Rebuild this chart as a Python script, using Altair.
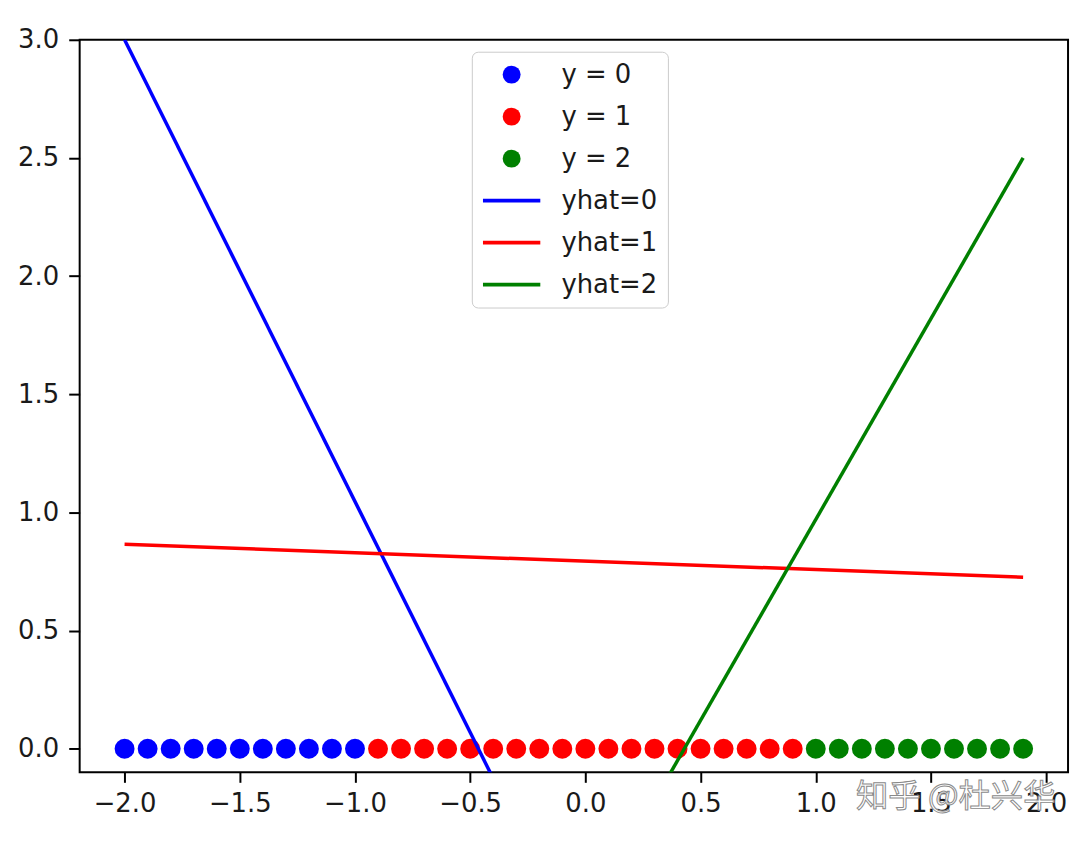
import altair as alt
import pandas as pd

# ---- data ----
x_class0 = [-2.0, -1.9, -1.8, -1.7, -1.6, -1.5, -1.4, -1.3, -1.2, -1.1, -1.0]
x_class1 = [-0.9, -0.8, -0.7, -0.6, -0.5, -0.4, -0.3, -0.2, -0.1, 0.0,
            0.1, 0.2, 0.3, 0.4, 0.5, 0.6, 0.7, 0.8, 0.9]
x_class2 = [1.0, 1.1, 1.2, 1.3, 1.4, 1.5, 1.6, 1.7, 1.8, 1.9]
point_labels = ["y = 0", "y = 1", "y = 2"]

line_x = [-2.0, 1.9]
yhat0 = [3.0, -4.62]
yhat1 = [0.865, 0.726]
yhat2 = [-4.13, 2.5]
line_labels = ["yhat=0", "yhat=1", "yhat=2"]

colors = ["#0000ff", "#ff0000", "#008000"]
x_ticks = [-2.0, -1.5, -1.0, -0.5, 0.0, 0.5, 1.0, 1.5, 2.0]
y_ticks = [0.0, 0.5, 1.0, 1.5, 2.0, 2.5, 3.0]
watermark = "知乎 @杜兴华"

# ---- tables ----
pts = []
for lab, xs in zip(point_labels, [x_class0, x_class1, x_class2]):
    for xv in xs:
        pts.append({"x": xv, "y": 0.0, "label": lab})
pts = pd.DataFrame(pts)

lines = []
for lab, ys in zip(line_labels, [yhat0, yhat1, yhat2]):
    for xv, yv in zip(line_x, ys):
        lines.append({"x": xv, "y": yv, "label": lab})
lines = pd.DataFrame(lines)

FONT = "DejaVu Sans"
label_expr = "replace(format(datum.value, '.1f'), '-', '\u2212')"

xscale = alt.Scale(domain=[-2.195, 2.095], nice=False, zero=False)
yscale = alt.Scale(domain=[-0.1, 3.0], nice=False, zero=False)

xaxis = alt.Axis(values=x_ticks, title=None, grid=False, domain=False,
                 labelExpr=label_expr, tickSize=10, tickWidth=2, tickColor="black",
                 labelFont=FONT, labelFontSize=26, labelColor="#1a1a1a",
                 labelPadding=8, labelFlush=False)
yaxis = alt.Axis(values=y_ticks, title=None, grid=False, domain=False,
                 labelExpr=label_expr, tickSize=11, tickWidth=2, tickColor="black",
                 labelFont=FONT, labelFontSize=26, labelColor="#1a1a1a",
                 labelPadding=10, labelFlush=False)

all_labels = point_labels + line_labels
bar_path = "M-3.2,-0.22H3.2V0.22H-3.2Z"

points = alt.Chart(pts).mark_point(filled=True, opacity=1, size=400).encode(
    x=alt.X("x:Q", scale=xscale, axis=xaxis),
    y=alt.Y("y:Q", scale=yscale, axis=yaxis),
    color=alt.Color("label:N",
                    scale=alt.Scale(domain=all_labels, range=colors + colors),
                    legend=alt.Legend(title=None, orient="none", legendX=394, legendY=12,
                                      labelFont=FONT, labelFontSize=26, labelColor="#1a1a1a",
                                      symbolSize=324, symbolOffset=17, labelOffset=37,
                                      padding=10, rowPadding=16.2,
                                      fillColor="white", strokeColor="#cccccc",
                                      cornerRadius=6, symbolStrokeWidth=0)),
    shape=alt.Shape("label:N",
                    scale=alt.Scale(domain=all_labels,
                                    range=["circle", "circle", "circle", bar_path, bar_path, bar_path])),
)

line_layer = alt.Chart(lines).mark_line(clip=True, strokeWidth=3.5).encode(
    x=alt.X("x:Q", scale=xscale),
    y=alt.Y("y:Q", scale=yscale),
    stroke=alt.Stroke("label:N", scale=alt.Scale(domain=line_labels, range=colors), legend=None),
)

wm = alt.Chart(pd.DataFrame({"t": [watermark]})).mark_text(
    font="Noto Sans CJK SC", fontSize=32.5, align="left", baseline="alphabetic",
    fill="white", fillOpacity=0.85, stroke="#8a8a8a", strokeWidth=1, clip=False
).encode(text="t:N", x=alt.value(780), y=alt.value(771))

chart = alt.layer(points, line_layer, wm).properties(
    width=993, height=736,
    background="white",
    autosize=alt.AutoSizeParams(type="none"),
    padding={"left": 72, "top": 30, "right": 8, "bottom": 60},
).configure_view(stroke="black", strokeWidth=2)

chart.save("out.html", embed_options={"renderer": "svg", "actions": False})
